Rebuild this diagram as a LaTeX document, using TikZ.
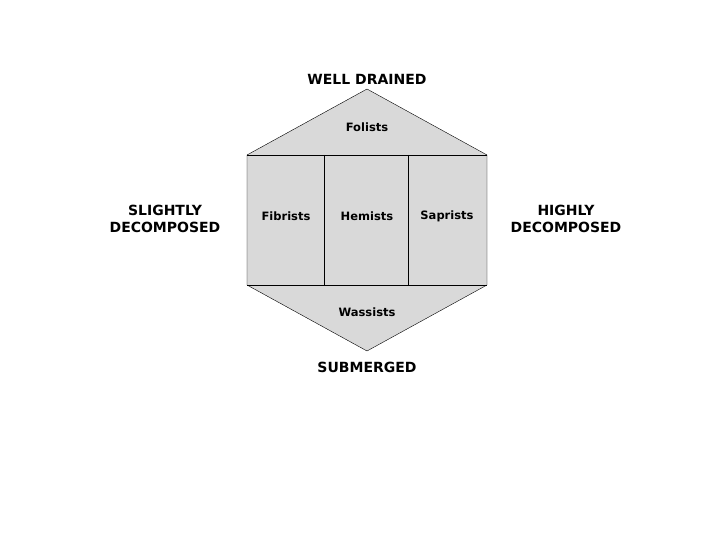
\documentclass[tikz,border=0pt]{standalone}
\usepackage{fontspec}
\setmainfont{DejaVu Sans}
\usetikzlibrary{positioning}
\definecolor{hexgray}{RGB}{217,217,217}
\tikzset{
  outer/.style={font=\bfseries\fontsize{14}{17}\selectfont, align=center},
  inner/.style={font=\bfseries\fontsize{11.5}{14}\selectfont}
}
\begin{document}
\begin{tikzpicture}[x=1pt,y=-1pt]
\useasboundingbox (0,0) rectangle (720,540);
% hexagon
\coordinate (top) at (367,89);
\coordinate (ul) at (247,155);
\coordinate (ur) at (487,155);
\coordinate (ll) at (247,285);
\coordinate (lr) at (487,285);
\coordinate (bot) at (367,351);
\draw[fill=hexgray] (top) -- (ur) -- (lr) -- (bot) -- (ll) -- (ul) -- cycle;
\draw (ul) -- (ur);
\draw (ll) -- (lr);
\coordinate (a1) at (324,155); \coordinate (a2) at (324,285);
\coordinate (b1) at (408,155); \coordinate (b2) at (408,285);
\draw (a1) -- (a2);
\draw (b1) -- (b2);
% labels
\node[inner] (folists) at (367,127) {Folists};
\node[inner] (fibrists) at (286,216) {Fibrists};
\node[inner] (hemists) at (367,216) {Hemists};
\node[inner] (saprists) at (447,216) {Saprists};
\node[inner] (wassists) at (367,312) {Wassists};
\node[outer] (drained) at (367,79) {WELL DRAINED};
\node[outer] (submerged) at (367,367) {SUBMERGED};
\node[outer] (slightly) at (165,219) {SLIGHTLY\\DECOMPOSED};
\node[outer] (highly) at (566,219) {HIGHLY\\DECOMPOSED};
\end{tikzpicture}
\end{document}
